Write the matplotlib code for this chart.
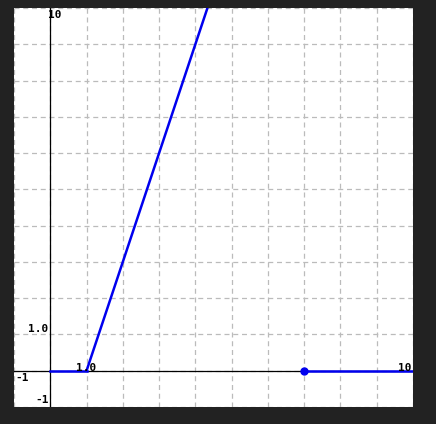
import matplotlib
matplotlib.use("Agg")
import matplotlib.pyplot as plt

seg1_x = [0, 1]
seg1_y = [0, 0]
seg2_x = [1, 4.333]
seg2_y = [0, 10]
seg3_x = [7, 10]
seg3_y = [0, 0]
dot_x = [7]
dot_y = [0]

fig = plt.figure(figsize=(4.36, 4.24), dpi=100, facecolor="#222222")
ax = fig.add_axes([14/436, 17/424, 399/436, 399/424])
ax.set_facecolor("white")
ax.set_xlim(-1, 10)
ax.set_ylim(-1, 10)
for v in range(-1, 11):
    ax.axvline(v, color="#bbbbbb", ls=(0, (4, 3)), lw=0.9, zorder=0)
    ax.axhline(v, color="#bbbbbb", ls=(0, (4, 3)), lw=0.9, zorder=0)
ax.axhline(0, color="black", lw=0.9, zorder=1)
ax.axvline(0, color="black", lw=0.9, zorder=1)
ax.set_xticks([]); ax.set_yticks([])
for s in ax.spines.values():
    s.set_visible(False)
c = "#0000ee"
ax.plot(seg1_x, seg1_y, color=c, lw=1.8, zorder=3)
ax.plot(seg2_x, seg2_y, color=c, lw=1.8, zorder=3)
ax.plot(seg3_x, seg3_y, color=c, lw=1.8, zorder=3)
ax.plot(dot_x, dot_y, "o", color=c, ms=5, zorder=4)
fk = dict(family="DejaVu Sans Mono", fontsize=8, fontweight="bold", color="black", zorder=5)
ax.text(-0.05, 9.95, "10", ha="left", va="top", **fk)
ax.text(-0.05, 1.0, "1.0", ha="right", va="bottom", **fk)
ax.text(1.0, -0.05, "1.0", ha="center", va="bottom", **fk)
ax.text(-0.95, -0.05, "-1", ha="left", va="top", **fk)
ax.text(9.95, -0.05, "10", ha="right", va="bottom", **fk)
ax.text(-0.05, -0.95, "-1", ha="right", va="bottom", **fk)
fig.savefig("out.png", dpi=100, facecolor=fig.get_facecolor())
